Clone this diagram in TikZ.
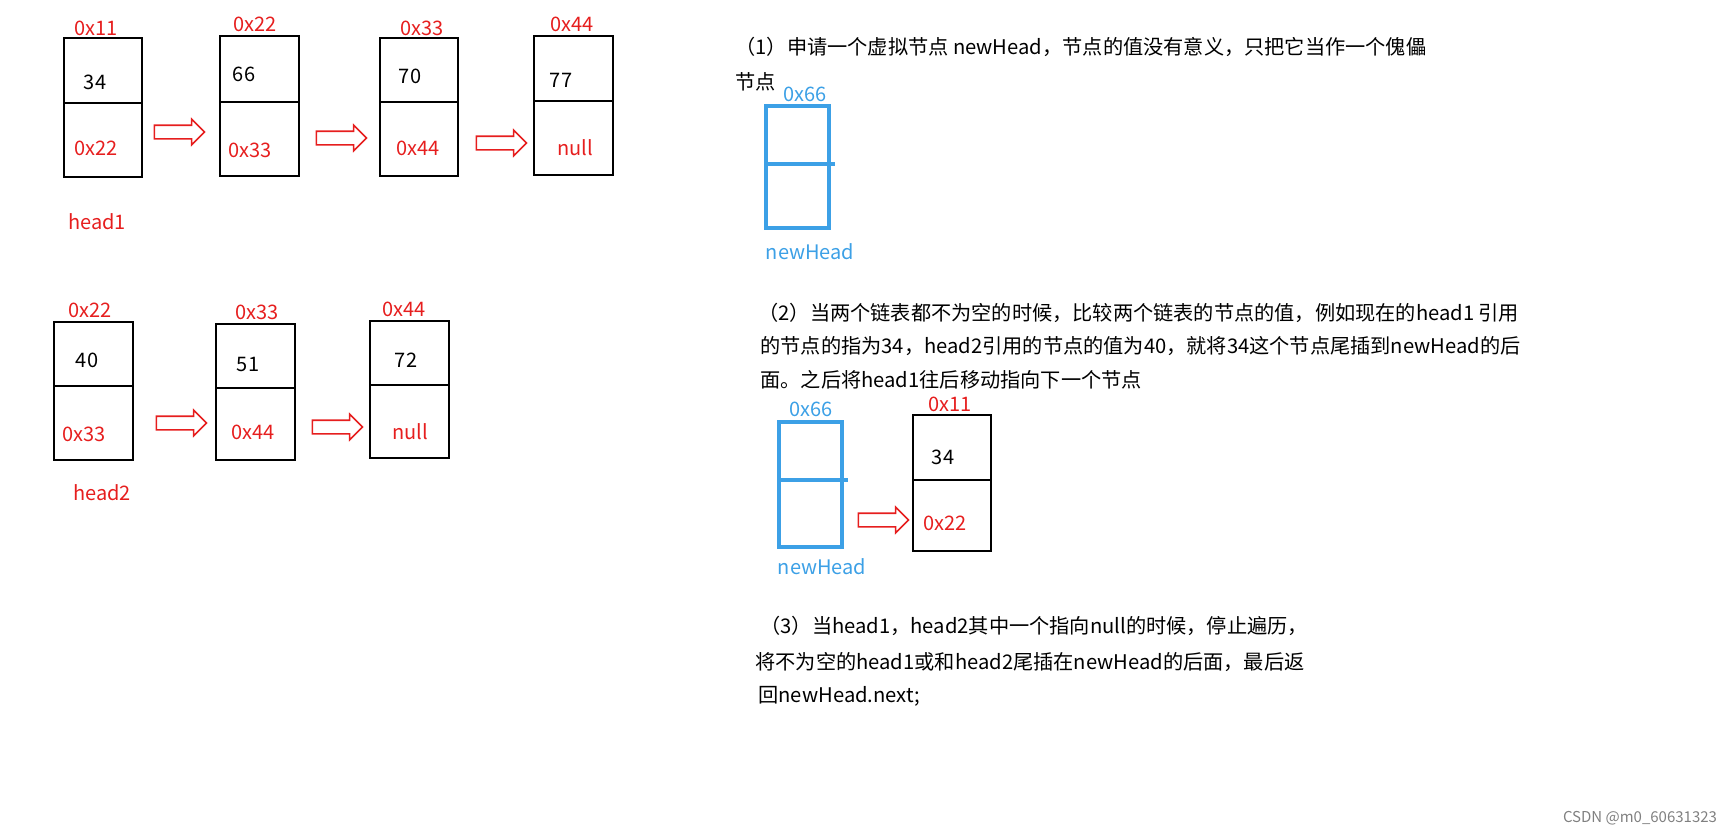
\documentclass[tikz,border=0pt]{standalone}
\usepackage{fontspec}
\setmainfont{Noto Sans CJK SC}
\usetikzlibrary{shapes.arrows}
\definecolor{nodeRed}{RGB}{230,30,30}
\definecolor{headBlue}{RGB}{60,160,230}
\tikzstyle{boxLine} = [color=black, line width=1pt]
\tikzstyle{headLine} = [color=headBlue, line width=2pt]
\tikzstyle{addrText} = [text=nodeRed, font=\fontsize{10}{12}\selectfont]
\tikzstyle{valText} = [text=black, font=\fontsize{10}{12}\selectfont]
\tikzstyle{headText} = [text=headBlue, font=\fontsize{10}{12}\selectfont]
\tikzstyle{noteText} = [anchor=west, font=\fontsize{10.1}{12}\selectfont, inner sep=0pt]
\tikzstyle{blockArrow} = [single arrow, draw=nodeRed, line width=0.8pt, minimum height=25pt, minimum width=12pt, single arrow head extend=3pt, inner sep=3pt]
% box with a divider: name, left, top, right, bottom, divider
\newcommand{\listBox}[6]{\draw [boxLine] (#2,#3) rectangle (#4,#5); \draw [boxLine] (#2,#6) -- (#4,#6);
  \coordinate (#1) at (#2,#3);}
\newcommand{\headBox}[6]{\draw [headLine] (#2,#3) rectangle (#4,#5); \draw [headLine] (#2,#6) -- (#4+6,#6);
  \coordinate (#1) at (#2,#3);}
\begin{document}
\begin{tikzpicture}[x=0.5pt, y=-0.5pt]
  \useasboundingbox (0,0) rectangle (1736,837);
  % first list
  \listBox{boxA}{64}{38}{142}{177}{103}
  \listBox{boxB}{220}{36}{299}{176}{102}
  \listBox{boxC}{380}{38}{458}{176}{102}
  \listBox{boxD}{534}{36}{613}{175}{101}
  \node [addrText] (addrA) at (96,28) {0x11};
  \node [addrText] (addrB) at (255,24) {0x22};
  \node [addrText] (addrC) at (422,28) {0x33};
  \node [addrText] (addrD) at (572,24) {0x44};
  \node [valText] (valA) at (95,82) {34};
  \node [valText] (valB) at (244,74) {66};
  \node [valText] (valC) at (410,76) {70};
  \node [valText] (valD) at (561,80) {77};
  \node [addrText] (nextA) at (96,148) {0x22};
  \node [addrText] (nextB) at (250,150) {0x33};
  \node [addrText] (nextC) at (418,148) {0x44};
  \node [addrText] (nextD) at (575,148) {null};
  \node [blockArrow] (arrAB) at (176,132) {};
  \node [blockArrow] (arrBC) at (338,138) {};
  \node [blockArrow] (arrCD) at (498,143) {};
  \node [addrText] (headA) at (97,222) {head1};
  % second list
  \listBox{boxE}{54}{322}{133}{460}{386}
  \listBox{boxF}{216}{324}{295}{460}{388}
  \listBox{boxG}{370}{321}{449}{458}{385}
  \node [addrText] (addrE) at (90,310) {0x22};
  \node [addrText] (addrF) at (257,312) {0x33};
  \node [addrText] (addrG) at (404,309) {0x44};
  \node [valText] (valE) at (87,360) {40};
  \node [valText] (valF) at (248,364) {51};
  \node [valText] (valG) at (406,360) {72};
  \node [addrText] (nextE) at (84,434) {0x33};
  \node [addrText] (nextF) at (253,432) {0x44};
  \node [addrText] (nextG) at (410,432) {null};
  \node [blockArrow] (arrEF) at (178,423) {};
  \node [blockArrow] (arrFG) at (334,427) {};
  \node [addrText] (headB) at (102,493) {head2};
  % notes
  \node [noteText] (noteA) at (735,47) {（1）申请一个虚拟节点 newHead，节点的值没有意义，只把它当作一个傀儡};
  \node [noteText] (noteB) at (735,82) {节点};
  \headBox{dummyA}{766}{106}{829}{228}{164}
  \node [headText] (addrH) at (805,94) {0x66};
  \node [headText] (nameH) at (810,252) {newHead};
  \node [noteText] (noteC) at (758,313) {（2）当两个链表都不为空的时候，比较两个链表的节点的值，例如现在的head1 引用};
  \node [noteText] (noteD) at (760,346) {的节点的指为34，head2引用的节点的值为40，就将34这个节点尾插到newHead的后};
  \node [noteText] (noteE) at (760,380) {面。之后将head1往后移动指向下一个节点};
  \headBox{dummyB}{779}{422}{842}{547}{480}
  \node [headText] (addrI) at (811,409) {0x66};
  \node [headText] (nameI) at (822,567) {newHead};
  \listBox{boxH}{913}{415}{991}{551}{480}
  \node [addrText] (addrJ) at (950,404) {0x11};
  \node [valText] (valJ) at (943,457) {34};
  \node [addrText] (nextJ) at (945,523) {0x22};
  \node [blockArrow] (arrIJ) at (880,520) {};
  \node [noteText] (noteF) at (760,626) {（3）当head1，head2其中一个指向null的时候，停止遍历，};
  \node [noteText] (noteG) at (755,662) {将不为空的head1或和head2尾插在newHead的后面，最后返};
  \node [noteText] (noteH) at (758,696) {回newHead.next;};
  \node [text=gray, font=\fontsize{7.5}{9}\selectfont] (mark) at (1640,818) {CSDN @m0\_60631323};
\end{tikzpicture}
\end{document}
